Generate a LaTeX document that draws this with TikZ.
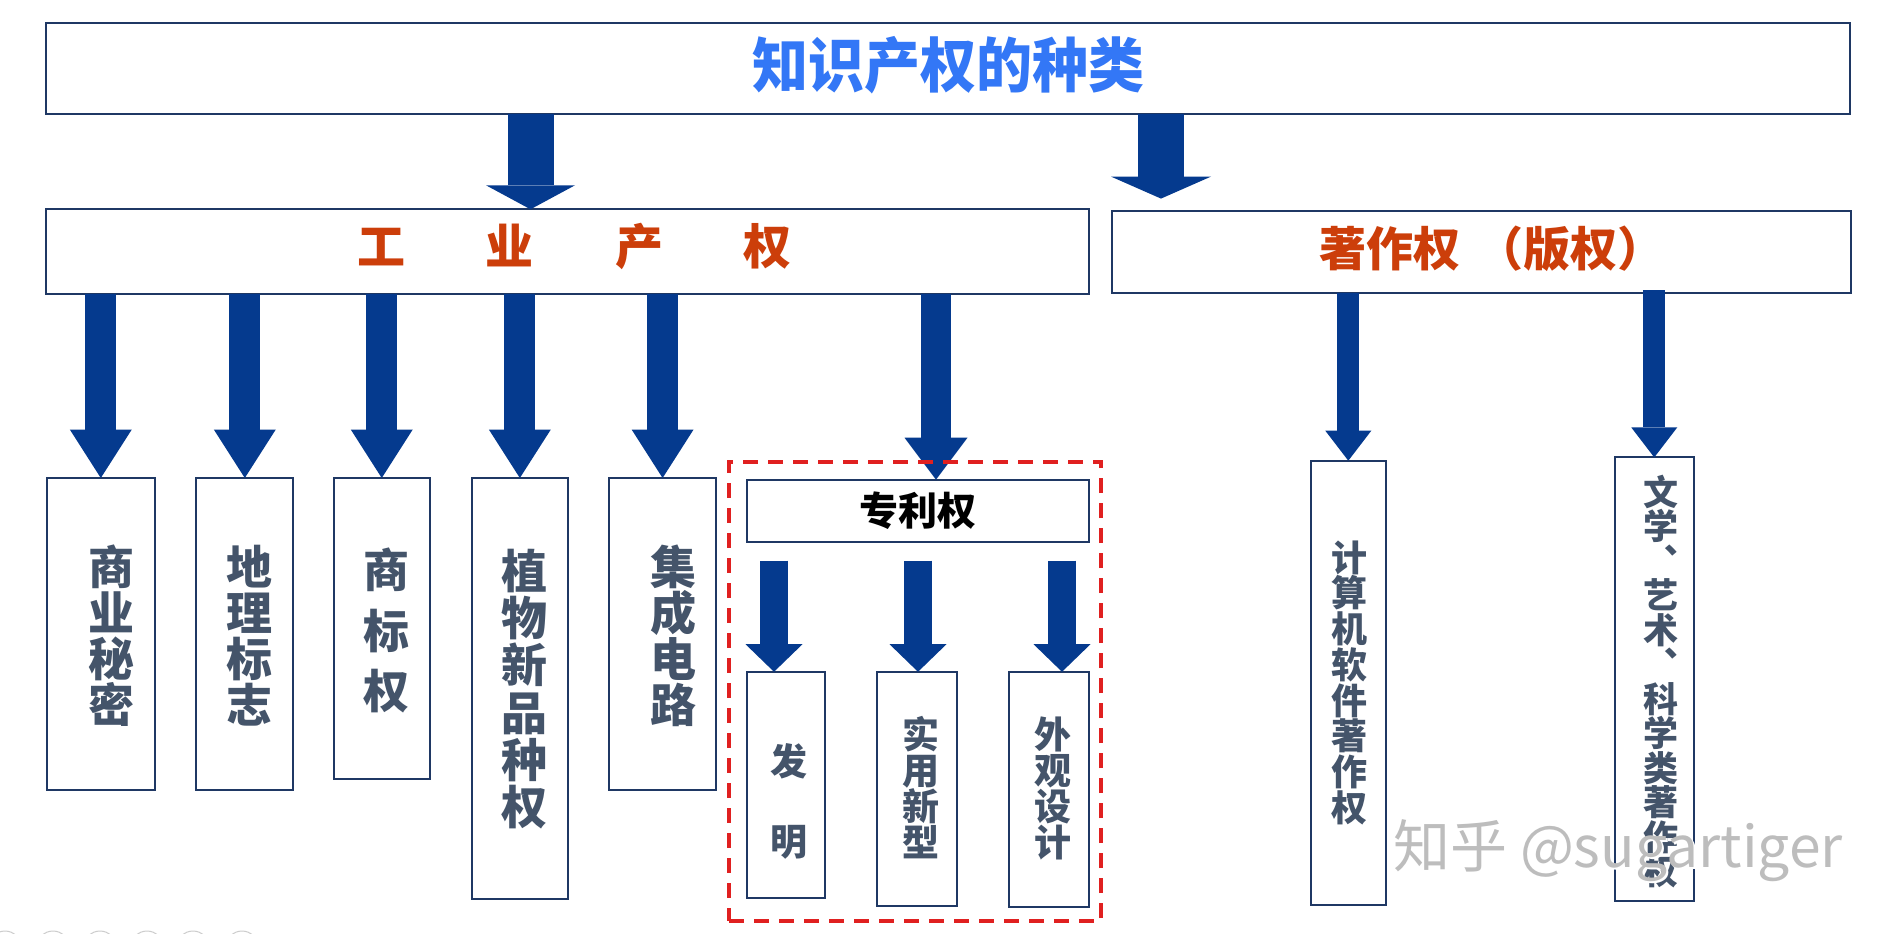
\documentclass[tikz,border=0pt]{standalone}
\usepackage{fontspec}
\newfontfamily\cjk{Noto Sans CJK SC}
\usetikzlibrary{arrows.meta}
\definecolor{titleblue}{HTML}{3377F6}
\definecolor{orangered}{HTML}{CC3E0A}
\definecolor{arrownavy}{HTML}{053A8E}
\definecolor{boxnavy}{HTML}{1F3864}
\definecolor{slate}{HTML}{44546A}
\definecolor{dashred}{HTML}{E02020}
\definecolor{wmgray}{HTML}{BDBDBD}
\begin{document}
\begin{tikzpicture}[x=1pt,y=-1pt,
  box/.style={draw=boxnavy,line width=2pt,fill=white,inner sep=0pt,outer sep=0pt,anchor=north west},
  barrow/.style n args={3}{draw=arrownavy,line width=#1pt,
     -{Triangle[width=#2pt,length=#3pt,line width=0pt]}},
  txt/.style 2 args={inner sep=0pt,align=center,font={\cjk\bfseries\fontsize{#1}{#2}\selectfont}},
  vtext/.style 2 args={txt={#1}{#2},text=slate},
]
\useasboundingbox[fill=white] (0,0) rectangle (1891,934);

% boxes
\node[box,minimum width=1804pt,minimum height=91.3pt] (top) at (46,22.7) {};
\node[box,minimum width=1043pt,minimum height=84.7pt] (ind) at (46,209.3) {};
\node[box,minimum width=739pt,minimum height=82pt] (copy) at (1112,211) {};
\node[box,minimum width=108.6pt,minimum height=312.4pt] (b1) at (46.5,478) {};
\node[box,minimum width=97pt,minimum height=312.4pt] (b2) at (196.3,478) {};
\node[box,minimum width=95.5pt,minimum height=300.7pt] (b3) at (334,478) {};
\node[box,minimum width=95.5pt,minimum height=420.6pt] (b4) at (472.1,478) {};
\node[box,minimum width=107.6pt,minimum height=312.4pt] (b5) at (608.8,478) {};
\node[box,minimum width=342pt,minimum height=62.6pt] (patent) at (746.7,479.7) {};
\node[box,minimum width=78.3pt,minimum height=226.4pt] (p1) at (746.7,671.8) {};
\node[box,minimum width=80.3pt,minimum height=233.9pt] (p2) at (876.7,671.8) {};
\node[box,minimum width=80pt,minimum height=235.6pt] (p3) at (1009,671.8) {};
\node[box,minimum width=74.4pt,minimum height=443.9pt] (s1) at (1311.1,460.7) {};
\node[box,minimum width=79.5pt,minimum height=443.8pt] (s2) at (1614.5,457.4) {};

% arrow x positions
\coordinate (xa1) at (530.5,0);
\coordinate (xa2) at (1161,0);
\coordinate (xpat) at (936,0);
\coordinate (xp1) at (774,0);
\coordinate (xp2) at (918,0);
\coordinate (xp3) at (1062,0);

% arrows
\draw[barrow={46}{89}{24}] (top.south -| xa1) -- (ind.north -| xa1);
\draw[barrow={46}{100}{22},shorten >=12.4pt] (top.south -| xa2) -- (copy.north -| xa2);
\foreach \b in {b1,b2,b3,b4,b5}{
  \draw[barrow={31}{62}{48.5}] (ind.south -| \b.north) -- (\b.north);
}
\draw[barrow={30}{63}{42}] (ind.south -| xpat) -- (patent.north -| xpat);
\draw[barrow={28}{57}{27.6},shorten <=18.4pt] (patent.south -| xp1) -- (p1.north -| xp1);
\draw[barrow={28}{57}{27.6},shorten <=18.4pt] (patent.south -| xp2) -- (p2.north -| xp2);
\draw[barrow={28}{57}{27.6},shorten <=18.4pt] (patent.south -| xp3) -- (p3.north -| xp3);
\draw[barrow={22.3}{46}{30}] (copy.south -| s1.north) -- (s1.north);
\draw[barrow={22.3}{46}{30},shorten <=-2.8pt] (copy.south -| s2.north) -- (s2.north);

% dashed frame
\node[draw=dashred,line width=4pt,dash pattern=on 15pt off 10pt,inner sep=0pt,anchor=north west,
  minimum width=372pt,minimum height=459.4pt] (frame) at (727.3,459.6) {};

% texts
\node[txt={56}{56},text=titleblue,yscale=1.06] (ttitle) at (948.5,65) {知识产权的种类};
\node[txt={48}{48},text=orangered] (tind) at (574.5,246.7) {工\hspace{81pt}业\hspace{81pt}产\hspace{81pt}权};
\node[txt={47}{47},text=orangered] (tcopy) at (1492,248.4) {著作权\hspace{16pt}（版权）};
\node[txt={39}{39},text=black] (tpat) at (917.7,510.6) {专利权};

\node[vtext={46}{46}] (t1) at (111.5,636) {商\\业\\秘\\密};
\node[vtext={46}{46}] (t2) at (249.6,636) {地\\理\\标\\志};
\node[vtext={46}{60.6}] (t3) at (386.3,630.5) {商\\标\\权};
\node[vtext={46}{47.3}] (t4) at (524.5,689) {植\\物\\新\\品\\种\\权};
\node[vtext={46}{46}] (t5) at (673.8,636) {集\\成\\电\\路};

\node[vtext={37}{80}] (tp1) at (789.3,801.6) {发\\明};
\node[vtext={37}{35.5}] (tp2) at (921,787.5) {实\\用\\新\\型};
\node[vtext={37}{36}] (tp3) at (1052.7,788.5) {外\\观\\设\\计};

\node[vtext={36}{35.7}] (ts1) at (1349.8,682.7) {计\\算\\机\\软\\件\\著\\作\\权};
\node[vtext={35}{34.5}] (ts2) at (1660.5,681.5) {文\\学\\︑\\艺\\术\\︑\\科\\学\\类\\著\\作\\权};

% watermark
\node[inner sep=0pt,font={\cjk\fontsize{57}{57}\selectfont},text=white] (wmshadow) at (1620,853) {知乎 @sugartiger};
\node[inner sep=0pt,font={\cjk\fontsize{57}{57}\selectfont},text=wmgray] (wm) at (1618,851) {知乎 @sugartiger};

% partial circles at the bottom edge
\begin{scope}
\clip (0,0) rectangle (1891,934);
\foreach \cx in {5,53,100,147,193,242}{
  \draw[gray!40,line width=1pt] (\cx,947) circle[radius=16];
}
\end{scope}
\end{tikzpicture}
\end{document}
